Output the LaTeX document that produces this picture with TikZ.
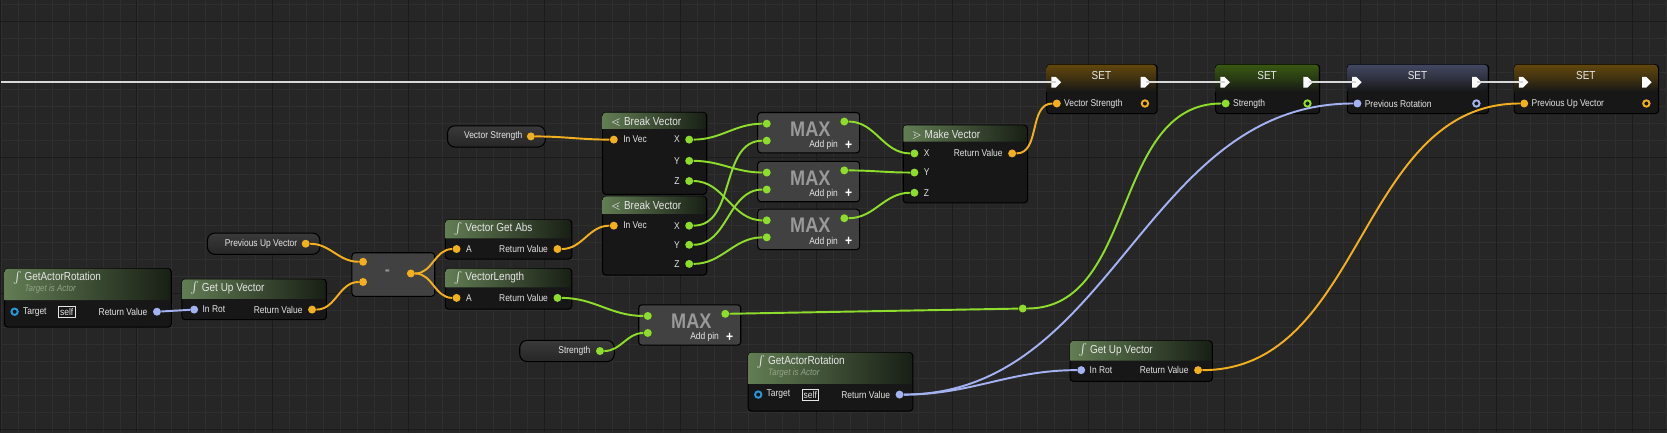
\documentclass[tikz,border=0pt]{standalone}
\usepackage{amssymb}
\usepackage{fontspec}
\setmainfont{Liberation Sans}[FakeStretch=0.86]
\usetikzlibrary{positioning}
\definecolor{bg}{HTML}{262626}
\definecolor{gridc}{HTML}{2F2F2F}
\definecolor{gridm}{HTML}{1B1B1B}
\definecolor{bodyc}{HTML}{161716}
\definecolor{yel}{HTML}{F2B020}
\definecolor{grn}{HTML}{8EDC2C}
\definecolor{lav}{HTML}{A4B2F2}
\definecolor{tgt}{HTML}{2A98D8}
\definecolor{hgreen}{HTML}{627D54}
\definecolor{txt}{HTML}{E6E6E6}
\def\u{0.02126cm}
\tikzset{
  body/.style={draw=black,fill=bodyc,rounded corners=3*\u,line width=0.6pt},
  pinn/.style={circle,fill=#1,inner sep=0pt,minimum size=7.5*\u},
  hpin/.style={circle,draw=#1,line width=1.1pt,inner sep=0pt,minimum size=6*\u},
  lbl/.style={text=txt,font=\fontsize{5.6}{6}\selectfont,inner sep=1pt},
  ttl/.style={text=txt,font=\fontsize{6.6}{7}\selectfont,anchor=west,inner sep=0pt},
  sub/.style={text=hgreen!70!white,font=\fontsize{5.3}{6}\itshape\selectfont,anchor=west,inner sep=0pt},
  wire/.style={line width=1.1pt,#1},
  exec/.style={fill=white,draw=none},
}
% function node: body, green header, title
\newcommand\fnode[7]{%
  \node[body,minimum width=(#4-#2)*\u,minimum height=(#5-#3)*\u,anchor=north west] (#1) at (#2,#3) {};
  \shade[left color=hgreen,right color=hgreen!25!black,rounded corners=3*\u]
    (#2+0.5,#6) [sharp corners]-- (#2+0.5,#3+4) [rounded corners=3*\u]-- (#2+0.5,#3+0.5) -- (#4-0.5,#3+0.5) [sharp corners]-- (#4-0.5,#6) -- cycle;
  \node[ttl] (#1t) at (#2+8,#3+9) {#7};}
\newcommand\maxnode[5]{% name x1 y1 x2 y2
  \node[body,fill=bodyc!80!gray!90,minimum width=(#4-#2)*\u,minimum height=(#5-#3)*\u,anchor=north west] (#1) at (#2,#3) {};
  \node[text=gray!80,font=\fontsize{12}{12}\bfseries\selectfont] (#1m) at ({(#2+#4)/2+2},{(#3+#5)/2-3}) {MAX};
  \node[lbl,anchor=east] (#1a) at (#4-18,#5-7) {Add pin};
  \node[text=white,font=\fontsize{8}{8}\bfseries\selectfont,inner sep=0pt] (#1p) at (#4-10,#5-7) {+};
  \node[pinn=grn] (#1i1) at (#2+9,#3+11) {};
  \node[pinn=grn] (#1i2) at (#2+9,#3+27) {};
  \node[pinn=grn] (#1o) at (#4-14,#3+9) {};}
\newcommand\varnode[5]{% name x1 x2 y text
  \node[body,rounded corners=7*\u,top color=gray!45!black,bottom color=black!85,minimum width=(#3-#2)*\u,minimum height=20*\u,anchor=west] (#1) at (#2,#4) {};
  \node[pinn=#5] (#1o) at (#3-13,#4) {};}
\newcommand\setnode[6]{% name x1 x2 color text pincolor
  \node[body,minimum width=(#3-#2)*\u,minimum height=46*\u,anchor=north west] (#1) at (#2,60) {};
  \shade[top color=#4,bottom color=bodyc,middle color=#4!55!bodyc,rounded corners=3*\u] (#2+0.5,86) -- (#2+0.5,60.5) -- (#3-0.5,60.5) -- (#3-0.5,86) [sharp corners]-- cycle;
  \node[lbl,font=\fontsize{6.6}{7}\selectfont] (#1t) at ({(#2+#3)/2},71) {SET};
  \coordinate (#1ei) at (#2+9,77);
  \coordinate (#1eo) at (#3-10,77);
  \fill[exec] (#2+5,72)--(#2+9,72)--(#2+14,77)--(#2+9,82)--(#2+5,82)--cycle;
  \fill[exec] (#3-15,72)--(#3-11,72)--(#3-6,77)--(#3-11,82)--(#3-15,82)--cycle;
  \node[pinn=#6] (#1i) at (#2+10,97) {};
  \node[lbl,anchor=west] at (#2+15,97) {#5};
  \node[hpin=#6] (#1o) at (#3-11,97) {};}

\begin{document}
\begin{tikzpicture}[x=\u,y=-\u]
\fill[bg] (0,0) rectangle (1568,407);
\foreach \i in {0,16,...,1568} \draw[gridc,line width=0.3pt] (\i,0) -- (\i,407);
\foreach \i in {4,20,...,407} \draw[gridc,line width=0.3pt] (0,\i) -- (1568,\i);
\foreach \i in {0,128,...,1568} \draw[gridm,line width=0.5pt] (\i,0) -- (\i,407);
\foreach \i in {20,148,...,407} \draw[gridm,line width=0.5pt] (0,\i) -- (1568,\i);

% left part
\fnode{gar}{3}{252}{160}{307}{282}{$\int$ GetActorRotation}
\node[sub] at (22,272) {Target is Actor};
\node[hpin=tgt] (gart) at (13,293) {};
\node[lbl,anchor=west] at (19,293) {Target};
\node[lbl,draw=txt,line width=0.4pt,inner sep=1pt] at (62,293) {self};
\node[pinn=lav] (garo) at (147,293) {};
\node[lbl,anchor=east] at (140,293) {Return Value};

\fnode{guv}{170}{262}{306}{300}{281}{$\int$ Get Up Vector}
\node[pinn=lav] (guvi) at (182,291) {};
\node[lbl,anchor=west] at (188,291) {In Rot};
\node[pinn=yel] (guvo) at (293,291) {};
\node[lbl,anchor=east] at (286,291) {Return Value};

\varnode{puv}{194}{300}{229}{yel}
\node[lbl,anchor=east] at (281,229) {Previous Up Vector};

\node[body,fill=bodyc!80!gray!90,minimum width=78*\u,minimum height=41*\u,anchor=north west] (sub) at (330,237) {};
\node[text=gray!85,font=\fontsize{10}{10}\bfseries\selectfont] at (364,256) {-};
\node[pinn=yel] (subi1) at (341,246) {};
\node[pinn=yel] (subi2) at (341,265) {};
\node[pinn=yel] (subo) at (386,257) {};

\fnode{vga}{418}{206}{537}{243}{224}{$\int$ Vector Get Abs}
\node[pinn=yel] (vgai) at (429,234) {};
\node[lbl,anchor=west] at (436,234) {A};
\node[pinn=yel] (vgao) at (524,234) {};
\node[lbl,anchor=east] at (517,234) {Return Value};

\fnode{vl}{418}{252}{537}{290}{270}{$\int$ VectorLength}
\node[pinn=yel] (vli) at (429,280) {};
\node[lbl,anchor=west] at (436,280) {A};
\node[pinn=grn] (vlo) at (524,280) {};
\node[lbl,anchor=east] at (517,280) {Return Value};

\varnode{vs}{420}{512}{128}{yel}
\node[lbl,anchor=east] at (493,128) {Vector Strength};

% break vectors
\fnode{bva}{566}{105}{664}{182}{121}{$\lessdot$ Break Vector}
\node[pinn=yel] (bvai) at (577,131) {};
\node[lbl,anchor=west] at (584,131) {In Vec};
\node[pinn=grn] (bvax) at (648,131) {};
\node[pinn=grn] (bvay) at (648,151) {};
\node[pinn=grn] (bvaz) at (648,170) {};
\node[lbl,anchor=east] at (641,131) {X};
\node[lbl,anchor=east] at (641,151) {Y};
\node[lbl,anchor=east] at (641,170) {Z};

\fnode{bvb}{566}{184}{664}{258}{201}{$\lessdot$ Break Vector}
\node[pinn=yel] (bvbi) at (577,212) {};
\node[lbl,anchor=west] at (584,212) {In Vec};
\node[pinn=grn] (bvbx) at (648,212) {};
\node[pinn=grn] (bvby) at (648,230) {};
\node[pinn=grn] (bvbz) at (648,248) {};
\node[lbl,anchor=east] at (641,212) {X};
\node[lbl,anchor=east] at (641,230) {Y};
\node[lbl,anchor=east] at (641,248) {Z};

\maxnode{mxa}{712}{105}{808}{143}
\maxnode{mxb}{712}{151}{808}{189}
\maxnode{mxc}{712}{196}{808}{234}
\maxnode{mxd}{600}{286}{696}{324}

\fnode{mv}{849}{117}{966}{190}{133}{$\gtrdot$ Make Vector}
\node[pinn=grn] (mvx) at (860,144) {};
\node[pinn=grn] (mvy) at (860,162) {};
\node[pinn=grn] (mvz) at (860,181) {};
\node[lbl,anchor=west] at (867,144) {X};
\node[lbl,anchor=west] at (867,162) {Y};
\node[lbl,anchor=west] at (867,181) {Z};
\node[pinn=yel] (mvo) at (952,144) {};
\node[lbl,anchor=east] at (945,144) {Return Value};

\varnode{st}{488}{577}{330}{grn}
\node[lbl,anchor=east] at (557,330) {Strength};

\fnode{garb}{703}{331}{858}{386}{361}{$\int$ GetActorRotation}
\node[sub] at (722,351) {Target is Actor};
\node[hpin=tgt] (garbt) at (713,371) {};
\node[lbl,anchor=west] at (719,371) {Target};
\node[lbl,draw=txt,line width=0.4pt,inner sep=1pt] at (762,371) {self};
\node[pinn=lav] (garbo) at (846,371) {};
\node[lbl,anchor=east] at (839,371) {Return Value};

\fnode{guvb}{1006}{320}{1140}{358}{339}{$\int$ Get Up Vector}
\node[pinn=lav] (guvbi) at (1017,348) {};
\node[lbl,anchor=west] at (1023,348) {In Rot};
\node[pinn=yel] (guvbo) at (1127,348) {};
\node[lbl,anchor=east] at (1120,348) {Return Value};

\node[pinn=grn] (rr) at (962,290) {};

% SET nodes
\setnode{sa}{984}{1088}{yel!40!black}{Vector Strength}{yel}
\setnode{sb}{1143}{1241}{grn!40!black}{Strength}{grn}
\setnode{sc}{1267}{1400}{lav!40!black}{Previous Rotation}{lav}
\setnode{sd}{1424}{1560}{yel!40!black}{Previous Up Vector}{yel}

% wires
\coordinate (ein) at (0,77);
\draw[wire=white!70!gray,line width=0.9pt] (ein) -- (saei);
\draw[wire=white!70!gray,line width=0.9pt] (saeo) -- (sbei);
\draw[wire=white!70!gray,line width=0.9pt] (sbeo) -- (scei);
\draw[wire=white!70!gray,line width=0.9pt] (sceo) -- (sdei);
\draw[wire=lav] (garo) -- (guvi);
\draw[wire=yel] (guvo) to[out=0,in=180] (subi2);
\draw[wire=yel] (puvo) to[out=0,in=180] (subi1);
\draw[wire=yel] (subo) to[out=0,in=180] (vgai);
\draw[wire=yel] (subo) to[out=0,in=180] (vli);
\draw[wire=yel] (vgao) to[out=0,in=180] (bvbi);
\draw[wire=yel] (vso) to[out=0,in=180] (bvai);
\draw[wire=grn] (bvax) to[out=0,in=180] (mxai1);
\draw[wire=grn] (bvay) to[out=0,in=180] (mxbi1);
\draw[wire=grn] (bvaz) to[out=0,in=180] (mxci1);
\draw[wire=grn] (bvbx) to[out=0,in=180] (mxai2);
\draw[wire=grn] (bvby) to[out=0,in=180] (mxbi2);
\draw[wire=grn] (bvbz) to[out=0,in=180] (mxci2);
\draw[wire=grn] (mxao) to[out=0,in=180] (mvx);
\draw[wire=grn] (mxbo) to[out=0,in=180] (mvy);
\draw[wire=grn] (mxco) to[out=0,in=180] (mvz);
\draw[wire=yel] (mvo) to[out=0,in=180] (sai);
\draw[wire=grn] (vlo) to[out=0,in=180] (mxdi1);
\draw[wire=grn] (sto) to[out=0,in=180] (mxdi2);
\draw[wire=grn] (mxdo) -- (rr);
\draw[wire=grn] (rr) to[out=0,in=180] (sbi);
\draw[wire=lav] (garbo) to[out=0,in=180] (sci);
\draw[wire=lav] (garbo) to[out=0,in=180] (guvbi);
\draw[wire=yel] (guvbo) to[out=0,in=180] (sdi);
\end{tikzpicture}
\end{document}
